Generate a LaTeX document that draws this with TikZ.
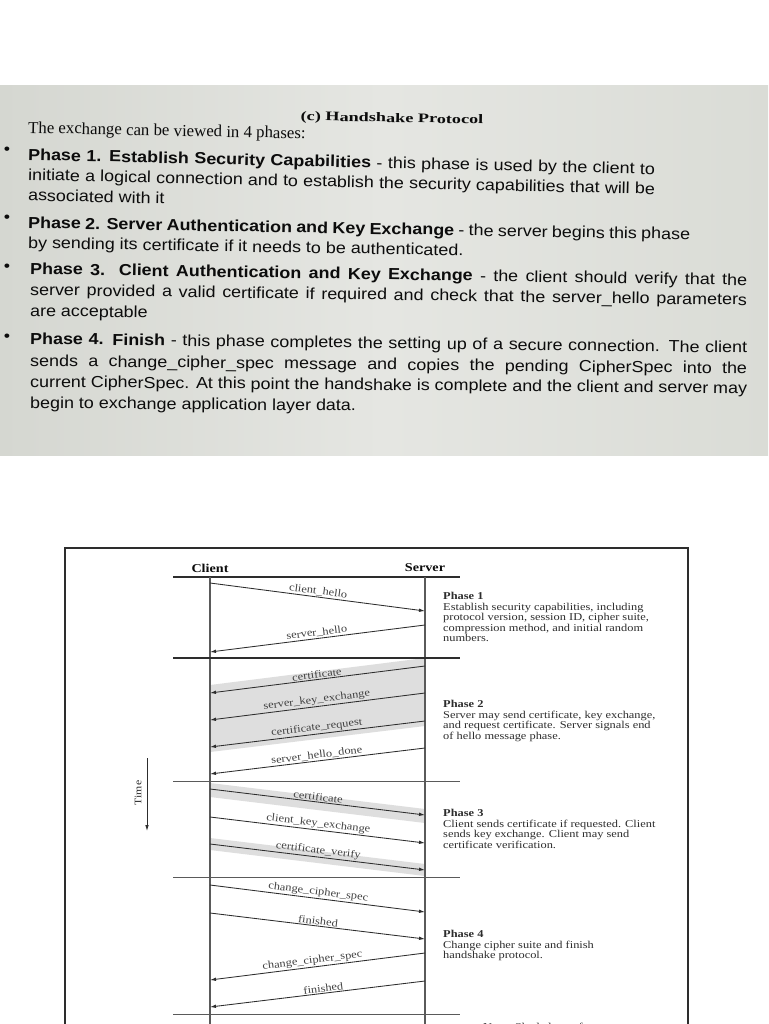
\documentclass[tikz,border=0pt]{standalone}
\usepackage{fontspec}
\setmainfont{Liberation Serif}
\newfontfamily\psans[FakeStretch=1.12]{Liberation Sans}
\newfontfamily\pserif{Liberation Serif}
\newfontfamily\dserif[FakeStretch=1.18]{Liberation Serif}
\usetikzlibrary{arrows.meta}
\definecolor{bandL}{RGB}{213,215,209}
\definecolor{bandM}{RGB}{229,230,226}
\definecolor{bandR}{RGB}{218,220,214}
\definecolor{ink}{RGB}{12,12,12}
\definecolor{dink}{RGB}{45,45,45}
\definecolor{lblc}{RGB}{65,65,65}
\definecolor{linec}{RGB}{90,90,90}
\definecolor{shadec}{RGB}{222,222,222}
\begin{document}
\begin{tikzpicture}[x=1pt,y=-1pt,
  pl/.style={anchor=west,inner sep=0pt,text=ink,font=\psans\fontsize{16}{18}\selectfont},
  bul/.style={inner sep=0pt,text=ink,font=\psans\fontsize{16}{18}\selectfont},
  msg/.style={draw=dink,line width=0.85pt,-{Latex[length=6pt,width=3.6pt]}},
  lbl/.style={sloped,above,midway,inner sep=1pt,text=lblc,font=\dserif\fontsize{10.5}{11}\selectfont},
  sepline/.style={draw=linec,line width=0.9pt},
  life/.style={draw=linec,line width=1.1pt},
  phtxt/.style={anchor=north west,align=left,inner sep=0pt,text=dink,font=\dserif\fontsize{10.5}{10.6}\selectfont},
  hdr/.style={inner sep=0pt,text=ink,font=\dserif\bfseries\fontsize{12}{12}\selectfont},
  optband/.style={fill=shadec,draw=none}
]
\useasboundingbox (0,0) rectangle (768,1024);
\clip (0,0) rectangle (768,1024);
\fill[white] (0,0) rectangle (768,1024);

% ---------- photographed text ----------
\shade[left color=bandL,right color=bandR,middle color=bandM] (0,86) rectangle (768,455);

\node[inner sep=0pt,text=ink,rotate=-1.2,font=\pserif\bfseries\fontsize{13}{13}\selectfont] (title) at (392,119) {\scalebox{1.4}[1]{(c) Handshake Protocol}};
\node[anchor=west,inner sep=0pt,text=ink,rotate=-1.2,font=\pserif\fontsize{16.8}{18}\selectfont] (intro) at (28,129) {The exchange can be viewed in 4 phases:};

\node[bul] (b1) at (7,151) {•};
\node[bul] (b2) at (7,219) {•};
\node[bul] (b3) at (7,268) {•};
\node[bul] (b4) at (7,338) {•};

\node[pl,rotate=-1.3] (p1a) at (28,156) {\makebox[627pt][s]{\textbf{Phase 1. Establish Security Capabilities} - this phase is used by the client to}};
\node[pl,rotate=-1.3] (p1b) at (28,176) {\makebox[627pt][s]{initiate a logical connection and to establish the security capabilities that will be}};
\node[pl,rotate=-1.3] (p1c) at (28,195) {associated with it};

\node[pl,rotate=-1.0] (p2a) at (28,224) {\makebox[662pt][s]{\textbf{Phase 2. Server Authentication and Key Exchange} - the server begins this phase}};
\node[pl,rotate=-1.0] (p2b) at (28,244) {by sending its certificate if it needs to be authenticated.};

\node[pl,rotate=-0.9] (p3a) at (30,270) {\makebox[717pt][s]{\textbf{Phase 3. Client Authentication and Key Exchange} - the client should verify that the}};
\node[pl,rotate=-0.8] (p3b) at (30,291) {\makebox[717pt][s]{server provided a valid certificate if required and check that the server\_hello parameters}};
\node[pl,rotate=-0.8] (p3c) at (30,312) {are acceptable};

\node[pl,rotate=-0.7] (p4a) at (30,340) {\makebox[717pt][s]{\textbf{Phase 4. Finish} - this phase completes the setting up of a secure connection. The client}};
\node[pl,rotate=-0.6] (p4b) at (30,362) {\makebox[717pt][s]{sends a change\_cipher\_spec message and copies the pending CipherSpec into the}};
\node[pl,rotate=-0.5] (p4c) at (30,383) {\makebox[717pt][s]{current CipherSpec. At this point the handshake is complete and the client and server may}};
\node[pl,rotate=-0.5] (p4d) at (30,404) {begin to exchange application layer data.};

% ---------- handshake diagram ----------
\draw[draw=dink,line width=1.3pt] (65,548) rectangle (688,1040);

% optional (shaded) transfers
\fill[optband] (210,685) -- (425,658) -- (425,726) -- (210,752) -- cycle;
\fill[optband] (210,783) -- (425,809) -- (425,823) -- (210,797) -- cycle;
\fill[optband] (210,838) -- (425,864) -- (425,876) -- (210,850) -- cycle;

\node[hdr] (client) at (210,568) {Client};
\node[hdr] (server) at (425,568) {Server};

\coordinate (hl0) at (173,577);
\coordinate (hl1) at (460,577);
\draw[draw=dink,line width=1.1pt] (hl0) -- (hl1);

\coordinate (ctop) at (210,577);
\coordinate (cbot) at (210,1040);
\coordinate (stop) at (425,577);
\coordinate (sbot) at (425,1040);
\draw[life] (ctop) -- (cbot);
\draw[life] (stop) -- (sbot);

\coordinate (sa0) at (173,658);  \coordinate (sa1) at (460,658);
\coordinate (sb0) at (173,781);  \coordinate (sb1) at (460,781);
\coordinate (sc0) at (173,877);  \coordinate (sc1) at (460,877);
\coordinate (sd0) at (173,1014); \coordinate (sd1) at (460,1014);
\draw[draw=dink,line width=1.3pt] (sa0) -- (sa1);
\draw[sepline] (sb0) -- (sb1);
\draw[sepline] (sc0) -- (sc1);
\draw[sepline] (sd0) -- (sd1);

% Phase 1
\coordinate (m1a) at (210,583); \coordinate (m1b) at (425,611);
\coordinate (m2a) at (425,625); \coordinate (m2b) at (210,652);
\draw[msg] (m1a) -- node[lbl] {client\_hello} (m1b);
\draw[msg] (m2a) -- node[lbl] {server\_hello} (m2b);

% Phase 2
\coordinate (m3a) at (425,666); \coordinate (m3b) at (210,693);
\coordinate (m4a) at (425,693); \coordinate (m4b) at (210,720);
\coordinate (m5a) at (425,721); \coordinate (m5b) at (210,747);
\coordinate (m6a) at (425,748); \coordinate (m6b) at (210,774);
\draw[msg] (m3a) -- node[lbl] {certificate} (m3b);
\draw[msg] (m4a) -- node[lbl] {server\_key\_exchange} (m4b);
\draw[msg] (m5a) -- node[lbl] {certificate\_request} (m5b);
\draw[msg] (m6a) -- node[lbl] {server\_hello\_done} (m6b);

% Phase 3
\coordinate (m7a) at (210,789); \coordinate (m7b) at (425,815);
\coordinate (m8a) at (210,817); \coordinate (m8b) at (425,843);
\coordinate (m9a) at (210,844); \coordinate (m9b) at (425,870);
\draw[msg] (m7a) -- node[lbl] {certificate} (m7b);
\draw[msg] (m8a) -- node[lbl] {client\_key\_exchange} (m8b);
\draw[msg] (m9a) -- node[lbl] {certificate\_verify} (m9b);

% Phase 4
\coordinate (m10a) at (210,885); \coordinate (m10b) at (425,912);
\coordinate (m11a) at (210,913); \coordinate (m11b) at (425,939);
\coordinate (m12a) at (425,953); \coordinate (m12b) at (210,980);
\coordinate (m13a) at (425,981); \coordinate (m13b) at (210,1007);
\draw[msg] (m10a) -- node[lbl] {change\_cipher\_spec} (m10b);
\draw[msg] (m11a) -- node[lbl] {finished} (m11b);
\draw[msg] (m12a) -- node[lbl,pos=0.52] {change\_cipher\_spec} (m12b);
\draw[msg] (m13a) -- node[lbl,pos=0.47] {finished} (m13b);

% time axis
\coordinate (t0) at (147,758);
\coordinate (t1) at (147,831);
\draw[draw=dink,line width=0.8pt,-{Latex[length=6pt,width=3.6pt]}] (t0) -- (t1);
\node[rotate=90,inner sep=0pt,text=dink,font=\dserif\fontsize{10}{10}\selectfont] (time) at (138,793) {Time};

% phase descriptions
\node[phtxt] (ph1) at (443,592) {\textbf{Phase 1}\\Establish security capabilities, including\\protocol version, session ID, cipher suite,\\compression method, and initial random\\numbers.};
\node[phtxt] (ph2) at (443,700) {\textbf{Phase 2}\\Server may send certificate, key exchange,\\and request certificate. Server signals end\\of hello message phase.};
\node[phtxt] (ph3) at (443,809) {\textbf{Phase 3}\\Client sends certificate if requested. Client\\sends key exchange. Client may send\\certificate verification.};
\node[phtxt] (ph4) at (443,930) {\textbf{Phase 4}\\Change cipher suite and finish\\handshake protocol.};

\node[anchor=west,inner sep=0pt,text=dink,font=\dserif\fontsize{10.5}{11}\selectfont] (note) at (483,1027) {Note: Shaded transfers are};
\end{tikzpicture}
\end{document}
